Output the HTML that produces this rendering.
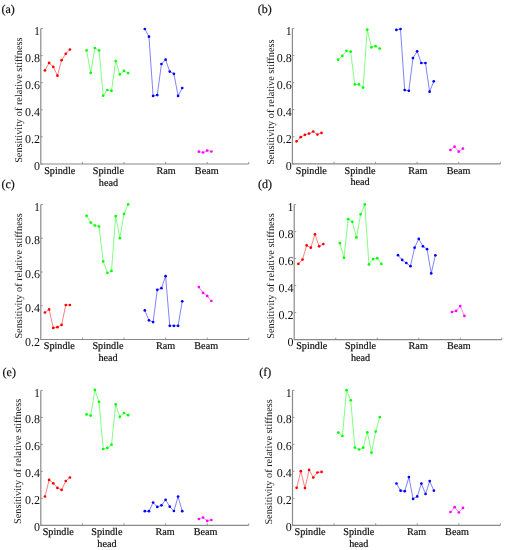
<!DOCTYPE html>
<html><head><meta charset="utf-8"><title>Sensitivity of relative stiffness</title>
<style>
html,body{margin:0;padding:0;background:#fff;}
body{width:506px;height:550px;overflow:hidden;}
svg{display:block;}
text{text-rendering:geometricPrecision;font-family:"Liberation Serif","Times New Roman",serif;fill:#111;stroke:#111;stroke-width:0.2px;}
.tk{stroke:none;}
.yl{stroke:none;fill:#222;}
</style></head><body>
<svg width="506" height="550" viewBox="0 0 506 550">
<rect width="506" height="550" fill="#fff"/>
<path d="M40.80 28.50V164.00H248.80" fill="none" stroke="#8a8a8a" stroke-width="1.2"/>
<path d="M82.40 164.00v-2M124.00 164.00v-2M165.60 164.00v-2M207.20 164.00v-2M248.80 164.00v-2M40.80 164.00h2M40.80 136.90h2M40.80 109.80h2M40.80 82.70h2M40.80 55.60h2M40.80 28.50h2" fill="none" stroke="#8a8a8a" stroke-width="0.9"/>
<text x="40.10" y="170.10" class="tk" text-anchor="end" font-size="12">0</text>
<text x="40.10" y="143.00" class="tk" text-anchor="end" font-size="12">0.2</text>
<text x="40.10" y="115.90" class="tk" text-anchor="end" font-size="12">0.4</text>
<text x="40.10" y="88.80" class="tk" text-anchor="end" font-size="12">0.6</text>
<text x="40.10" y="61.70" class="tk" text-anchor="end" font-size="12">0.8</text>
<text x="40.10" y="34.60" class="tk" text-anchor="end" font-size="12">1</text>
<text x="59.75" y="173.70" text-anchor="middle" font-size="10.2">Spindle</text>
<text x="108.40" y="173.70" text-anchor="middle" font-size="10.2">Spindle</text>
<text x="108.40" y="185.50" text-anchor="middle" font-size="10.2">head</text>
<text x="166.05" y="173.70" text-anchor="middle" font-size="10.2">Ram</text>
<text x="206.75" y="173.70" text-anchor="middle" font-size="10.2">Beam</text>
<text transform="translate(22.20 100.20) rotate(-90)" x="0" y="0" class="yl" text-anchor="middle" font-size="10.3">Sensitivity of relative stiffness</text>
<text x="1.40" y="12.60" font-size="12">(a)</text>
<path d="M44.96 70.40 L49.12 62.90 L53.28 66.90 L57.44 75.70 L61.60 60.20 L65.76 53.80 L69.92 49.50" fill="none" stroke="#ff0000" stroke-width="0.9" stroke-opacity="0.55"/>
<g fill="#ff0000"><circle cx="44.96" cy="70.40" r="1.35"/><circle cx="49.12" cy="62.90" r="1.35"/><circle cx="53.28" cy="66.90" r="1.35"/><circle cx="57.44" cy="75.70" r="1.35"/><circle cx="61.60" cy="60.20" r="1.35"/><circle cx="65.76" cy="53.80" r="1.35"/><circle cx="69.92" cy="49.50" r="1.35"/></g>
<path d="M86.56 50.40 L90.72 72.80 L94.88 48.00 L99.04 50.40 L103.20 95.70 L107.36 90.00 L111.52 90.80 L115.68 61.00 L119.84 74.40 L124.00 70.90 L128.16 73.10" fill="none" stroke="#00ff00" stroke-width="0.9" stroke-opacity="0.55"/>
<g fill="#00ff00"><circle cx="86.56" cy="50.40" r="1.35"/><circle cx="90.72" cy="72.80" r="1.35"/><circle cx="94.88" cy="48.00" r="1.35"/><circle cx="99.04" cy="50.40" r="1.35"/><circle cx="103.20" cy="95.70" r="1.35"/><circle cx="107.36" cy="90.00" r="1.35"/><circle cx="111.52" cy="90.80" r="1.35"/><circle cx="115.68" cy="61.00" r="1.35"/><circle cx="119.84" cy="74.40" r="1.35"/><circle cx="124.00" cy="70.90" r="1.35"/><circle cx="128.16" cy="73.10" r="1.35"/></g>
<path d="M144.80 29.00 L148.96 36.70 L153.12 95.90 L157.28 95.10 L161.44 64.00 L165.60 59.70 L169.76 71.60 L173.92 73.80 L178.08 95.90 L182.24 88.00" fill="none" stroke="#0000ff" stroke-width="0.9" stroke-opacity="0.55"/>
<g fill="#0000ff"><circle cx="144.80" cy="29.00" r="1.35"/><circle cx="148.96" cy="36.70" r="1.35"/><circle cx="153.12" cy="95.90" r="1.35"/><circle cx="157.28" cy="95.10" r="1.35"/><circle cx="161.44" cy="64.00" r="1.35"/><circle cx="165.60" cy="59.70" r="1.35"/><circle cx="169.76" cy="71.60" r="1.35"/><circle cx="173.92" cy="73.80" r="1.35"/><circle cx="178.08" cy="95.90" r="1.35"/><circle cx="182.24" cy="88.00" r="1.35"/></g>
<path d="M198.88 151.70 L203.04 152.50 L207.20 150.60 L211.36 151.50" fill="none" stroke="#ff00ff" stroke-width="0.9" stroke-opacity="0.55"/>
<g fill="#ff00ff"><circle cx="198.88" cy="151.70" r="1.35"/><circle cx="203.04" cy="152.50" r="1.35"/><circle cx="207.20" cy="150.60" r="1.35"/><circle cx="211.36" cy="151.50" r="1.35"/></g>
<path d="M292.40 28.50V163.80H500.30" fill="none" stroke="#8a8a8a" stroke-width="1.2"/>
<path d="M333.98 163.80v-2M375.56 163.80v-2M417.14 163.80v-2M458.72 163.80v-2M500.30 163.80v-2M292.40 163.80h2M292.40 136.74h2M292.40 109.68h2M292.40 82.62h2M292.40 55.56h2M292.40 28.50h2" fill="none" stroke="#8a8a8a" stroke-width="0.9"/>
<text x="291.70" y="169.90" class="tk" text-anchor="end" font-size="12">0</text>
<text x="291.70" y="142.84" class="tk" text-anchor="end" font-size="12">0.2</text>
<text x="291.70" y="115.78" class="tk" text-anchor="end" font-size="12">0.4</text>
<text x="291.70" y="88.72" class="tk" text-anchor="end" font-size="12">0.6</text>
<text x="291.70" y="61.66" class="tk" text-anchor="end" font-size="12">0.8</text>
<text x="291.70" y="34.60" class="tk" text-anchor="end" font-size="12">1</text>
<text x="311.30" y="173.50" text-anchor="middle" font-size="10.2">Spindle</text>
<text x="360.05" y="173.50" text-anchor="middle" font-size="10.2">Spindle</text>
<text x="360.05" y="185.30" text-anchor="middle" font-size="10.2">head</text>
<text x="417.80" y="173.50" text-anchor="middle" font-size="10.2">Ram</text>
<text x="458.55" y="173.50" text-anchor="middle" font-size="10.2">Beam</text>
<text transform="translate(274.00 102.20) rotate(-90)" x="0" y="0" class="yl" text-anchor="middle" font-size="10.3">Sensitivity of relative stiffness</text>
<text x="257.70" y="12.80" font-size="12">(b)</text>
<path d="M296.56 141.30 L300.72 137.20 L304.87 134.80 L309.03 133.60 L313.19 131.50 L317.35 134.50 L321.51 132.90" fill="none" stroke="#ff0000" stroke-width="0.9" stroke-opacity="0.55"/>
<g fill="#ff0000"><circle cx="296.56" cy="141.30" r="1.35"/><circle cx="300.72" cy="137.20" r="1.35"/><circle cx="304.87" cy="134.80" r="1.35"/><circle cx="309.03" cy="133.60" r="1.35"/><circle cx="313.19" cy="131.50" r="1.35"/><circle cx="317.35" cy="134.50" r="1.35"/><circle cx="321.51" cy="132.90" r="1.35"/></g>
<path d="M338.14 59.70 L342.30 55.90 L346.45 50.80 L350.61 51.70 L354.77 84.40 L358.93 84.40 L363.09 87.60 L367.24 29.60 L371.40 47.30 L375.56 46.20 L379.72 48.60" fill="none" stroke="#00ff00" stroke-width="0.9" stroke-opacity="0.55"/>
<g fill="#00ff00"><circle cx="338.14" cy="59.70" r="1.35"/><circle cx="342.30" cy="55.90" r="1.35"/><circle cx="346.45" cy="50.80" r="1.35"/><circle cx="350.61" cy="51.70" r="1.35"/><circle cx="354.77" cy="84.40" r="1.35"/><circle cx="358.93" cy="84.40" r="1.35"/><circle cx="363.09" cy="87.60" r="1.35"/><circle cx="367.24" cy="29.60" r="1.35"/><circle cx="371.40" cy="47.30" r="1.35"/><circle cx="375.56" cy="46.20" r="1.35"/><circle cx="379.72" cy="48.60" r="1.35"/></g>
<path d="M396.35 29.90 L400.51 29.00 L404.67 90.10 L408.82 90.80 L412.98 58.10 L417.14 51.30 L421.30 63.00 L425.46 63.00 L429.61 91.70 L433.77 81.30" fill="none" stroke="#0000ff" stroke-width="0.9" stroke-opacity="0.55"/>
<g fill="#0000ff"><circle cx="396.35" cy="29.90" r="1.35"/><circle cx="400.51" cy="29.00" r="1.35"/><circle cx="404.67" cy="90.10" r="1.35"/><circle cx="408.82" cy="90.80" r="1.35"/><circle cx="412.98" cy="58.10" r="1.35"/><circle cx="417.14" cy="51.30" r="1.35"/><circle cx="421.30" cy="63.00" r="1.35"/><circle cx="425.46" cy="63.00" r="1.35"/><circle cx="429.61" cy="91.70" r="1.35"/><circle cx="433.77" cy="81.30" r="1.35"/></g>
<path d="M450.40 150.00 L454.56 146.70 L458.72 151.70 L462.88 148.60" fill="none" stroke="#ff00ff" stroke-width="0.9" stroke-opacity="0.55"/>
<g fill="#ff00ff"><circle cx="450.40" cy="150.00" r="1.35"/><circle cx="454.56" cy="146.70" r="1.35"/><circle cx="458.72" cy="151.70" r="1.35"/><circle cx="462.88" cy="148.60" r="1.35"/></g>
<path d="M40.80 204.50V339.50H248.80" fill="none" stroke="#8a8a8a" stroke-width="1.2"/>
<path d="M82.40 339.50v-2M124.00 339.50v-2M165.60 339.50v-2M207.20 339.50v-2M248.80 339.50v-2M40.80 339.50h2M40.80 305.75h2M40.80 272.00h2M40.80 238.25h2M40.80 204.50h2" fill="none" stroke="#8a8a8a" stroke-width="0.9"/>
<text x="40.10" y="345.60" class="tk" text-anchor="end" font-size="12">0.2</text>
<text x="40.10" y="311.85" class="tk" text-anchor="end" font-size="12">0.4</text>
<text x="40.10" y="278.10" class="tk" text-anchor="end" font-size="12">0.6</text>
<text x="40.10" y="244.35" class="tk" text-anchor="end" font-size="12">0.8</text>
<text x="40.10" y="210.60" class="tk" text-anchor="end" font-size="12">1</text>
<text x="59.30" y="349.20" text-anchor="middle" font-size="10.2">Spindle</text>
<text x="108.00" y="349.20" text-anchor="middle" font-size="10.2">Spindle</text>
<text x="108.00" y="361.00" text-anchor="middle" font-size="10.2">head</text>
<text x="165.65" y="349.20" text-anchor="middle" font-size="10.2">Ram</text>
<text x="206.20" y="349.20" text-anchor="middle" font-size="10.2">Beam</text>
<text transform="translate(21.70 275.95) rotate(-90)" x="0" y="0" class="yl" text-anchor="middle" font-size="10.3">Sensitivity of relative stiffness</text>
<text x="1.40" y="188.40" font-size="12">(c)</text>
<path d="M44.96 312.50 L49.12 309.40 L53.28 327.90 L57.44 327.20 L61.60 324.90 L65.76 305.00 L69.92 305.00" fill="none" stroke="#ff0000" stroke-width="0.9" stroke-opacity="0.55"/>
<g fill="#ff0000"><circle cx="44.96" cy="312.50" r="1.35"/><circle cx="49.12" cy="309.40" r="1.35"/><circle cx="53.28" cy="327.90" r="1.35"/><circle cx="57.44" cy="327.20" r="1.35"/><circle cx="61.60" cy="324.90" r="1.35"/><circle cx="65.76" cy="305.00" r="1.35"/><circle cx="69.92" cy="305.00" r="1.35"/></g>
<path d="M86.56 215.80 L90.72 222.60 L94.88 225.50 L99.04 226.50 L103.20 261.40 L107.36 272.80 L111.52 270.90 L115.68 216.10 L119.84 238.20 L124.00 213.90 L128.16 204.40" fill="none" stroke="#00ff00" stroke-width="0.9" stroke-opacity="0.55"/>
<g fill="#00ff00"><circle cx="86.56" cy="215.80" r="1.35"/><circle cx="90.72" cy="222.60" r="1.35"/><circle cx="94.88" cy="225.50" r="1.35"/><circle cx="99.04" cy="226.50" r="1.35"/><circle cx="103.20" cy="261.40" r="1.35"/><circle cx="107.36" cy="272.80" r="1.35"/><circle cx="111.52" cy="270.90" r="1.35"/><circle cx="115.68" cy="216.10" r="1.35"/><circle cx="119.84" cy="238.20" r="1.35"/><circle cx="124.00" cy="213.90" r="1.35"/><circle cx="128.16" cy="204.40" r="1.35"/></g>
<path d="M144.80 310.40 L148.96 320.30 L153.12 322.10 L157.28 289.80 L161.44 288.20 L165.60 276.20 L169.76 325.80 L173.92 325.80 L178.08 325.80 L182.24 301.30" fill="none" stroke="#0000ff" stroke-width="0.9" stroke-opacity="0.55"/>
<g fill="#0000ff"><circle cx="144.80" cy="310.40" r="1.35"/><circle cx="148.96" cy="320.30" r="1.35"/><circle cx="153.12" cy="322.10" r="1.35"/><circle cx="157.28" cy="289.80" r="1.35"/><circle cx="161.44" cy="288.20" r="1.35"/><circle cx="165.60" cy="276.20" r="1.35"/><circle cx="169.76" cy="325.80" r="1.35"/><circle cx="173.92" cy="325.80" r="1.35"/><circle cx="178.08" cy="325.80" r="1.35"/><circle cx="182.24" cy="301.30" r="1.35"/></g>
<path d="M198.88 287.10 L203.04 292.90 L207.20 295.90 L211.36 301.00" fill="none" stroke="#ff00ff" stroke-width="0.9" stroke-opacity="0.55"/>
<g fill="#ff00ff"><circle cx="198.88" cy="287.10" r="1.35"/><circle cx="203.04" cy="292.90" r="1.35"/><circle cx="207.20" cy="295.90" r="1.35"/><circle cx="211.36" cy="301.00" r="1.35"/></g>
<path d="M294.20 204.60V339.60H501.80" fill="none" stroke="#8a8a8a" stroke-width="1.2"/>
<path d="M335.72 339.60v-2M377.24 339.60v-2M418.76 339.60v-2M460.28 339.60v-2M501.80 339.60v-2M294.20 339.60h2M294.20 312.60h2M294.20 285.60h2M294.20 258.60h2M294.20 231.60h2M294.20 204.60h2" fill="none" stroke="#8a8a8a" stroke-width="0.9"/>
<text x="293.50" y="345.70" class="tk" text-anchor="end" font-size="12">0</text>
<text x="293.50" y="318.70" class="tk" text-anchor="end" font-size="12">0.2</text>
<text x="293.50" y="291.70" class="tk" text-anchor="end" font-size="12">0.4</text>
<text x="293.50" y="264.70" class="tk" text-anchor="end" font-size="12">0.6</text>
<text x="293.50" y="237.70" class="tk" text-anchor="end" font-size="12">0.8</text>
<text x="293.50" y="210.70" class="tk" text-anchor="end" font-size="12">1</text>
<text x="311.75" y="349.30" text-anchor="middle" font-size="10.2">Spindle</text>
<text x="360.50" y="349.30" text-anchor="middle" font-size="10.2">Spindle</text>
<text x="360.50" y="361.10" text-anchor="middle" font-size="10.2">head</text>
<text x="418.20" y="349.30" text-anchor="middle" font-size="10.2">Ram</text>
<text x="458.90" y="349.30" text-anchor="middle" font-size="10.2">Beam</text>
<text transform="translate(274.00 276.05) rotate(-90)" x="0" y="0" class="yl" text-anchor="middle" font-size="10.3">Sensitivity of relative stiffness</text>
<text x="257.90" y="188.10" font-size="12">(d)</text>
<path d="M298.35 263.90 L302.50 259.60 L306.66 245.40 L310.81 247.70 L314.96 234.30 L319.11 246.30 L323.26 244.10" fill="none" stroke="#ff0000" stroke-width="0.9" stroke-opacity="0.55"/>
<g fill="#ff0000"><circle cx="298.35" cy="263.90" r="1.35"/><circle cx="302.50" cy="259.60" r="1.35"/><circle cx="306.66" cy="245.40" r="1.35"/><circle cx="310.81" cy="247.70" r="1.35"/><circle cx="314.96" cy="234.30" r="1.35"/><circle cx="319.11" cy="246.30" r="1.35"/><circle cx="323.26" cy="244.10" r="1.35"/></g>
<path d="M339.87 243.20 L344.02 257.80 L348.18 219.20 L352.33 221.80 L356.48 237.40 L360.63 214.30 L364.78 204.40 L368.94 264.40 L373.09 259.10 L377.24 258.20 L381.39 263.90" fill="none" stroke="#00ff00" stroke-width="0.9" stroke-opacity="0.55"/>
<g fill="#00ff00"><circle cx="339.87" cy="243.20" r="1.35"/><circle cx="344.02" cy="257.80" r="1.35"/><circle cx="348.18" cy="219.20" r="1.35"/><circle cx="352.33" cy="221.80" r="1.35"/><circle cx="356.48" cy="237.40" r="1.35"/><circle cx="360.63" cy="214.30" r="1.35"/><circle cx="364.78" cy="204.40" r="1.35"/><circle cx="368.94" cy="264.40" r="1.35"/><circle cx="373.09" cy="259.10" r="1.35"/><circle cx="377.24" cy="258.20" r="1.35"/><circle cx="381.39" cy="263.90" r="1.35"/></g>
<path d="M398.00 255.20 L402.15 259.90 L406.30 263.00 L410.46 266.20 L414.61 247.70 L418.76 238.90 L422.91 246.30 L427.06 249.20 L431.22 273.40 L435.37 255.30" fill="none" stroke="#0000ff" stroke-width="0.9" stroke-opacity="0.55"/>
<g fill="#0000ff"><circle cx="398.00" cy="255.20" r="1.35"/><circle cx="402.15" cy="259.90" r="1.35"/><circle cx="406.30" cy="263.00" r="1.35"/><circle cx="410.46" cy="266.20" r="1.35"/><circle cx="414.61" cy="247.70" r="1.35"/><circle cx="418.76" cy="238.90" r="1.35"/><circle cx="422.91" cy="246.30" r="1.35"/><circle cx="427.06" cy="249.20" r="1.35"/><circle cx="431.22" cy="273.40" r="1.35"/><circle cx="435.37" cy="255.30" r="1.35"/></g>
<path d="M451.98 312.00 L456.13 310.90 L460.28 306.10 L464.43 315.90" fill="none" stroke="#ff00ff" stroke-width="0.9" stroke-opacity="0.55"/>
<g fill="#ff00ff"><circle cx="451.98" cy="312.00" r="1.35"/><circle cx="456.13" cy="310.90" r="1.35"/><circle cx="460.28" cy="306.10" r="1.35"/><circle cx="464.43" cy="315.90" r="1.35"/></g>
<path d="M40.80 390.40V525.30H248.80" fill="none" stroke="#8a8a8a" stroke-width="1.2"/>
<path d="M82.40 525.30v-2M124.00 525.30v-2M165.60 525.30v-2M207.20 525.30v-2M248.80 525.30v-2M40.80 525.30h2M40.80 498.32h2M40.80 471.34h2M40.80 444.36h2M40.80 417.38h2M40.80 390.40h2" fill="none" stroke="#8a8a8a" stroke-width="0.9"/>
<text x="40.10" y="531.40" class="tk" text-anchor="end" font-size="12">0</text>
<text x="40.10" y="504.42" class="tk" text-anchor="end" font-size="12">0.2</text>
<text x="40.10" y="477.44" class="tk" text-anchor="end" font-size="12">0.4</text>
<text x="40.10" y="450.46" class="tk" text-anchor="end" font-size="12">0.6</text>
<text x="40.10" y="423.48" class="tk" text-anchor="end" font-size="12">0.8</text>
<text x="40.10" y="396.50" class="tk" text-anchor="end" font-size="12">1</text>
<text x="58.25" y="535.00" text-anchor="middle" font-size="10.2">Spindle</text>
<text x="106.90" y="535.00" text-anchor="middle" font-size="10.2">Spindle</text>
<text x="106.90" y="546.80" text-anchor="middle" font-size="10.2">head</text>
<text x="165.00" y="535.00" text-anchor="middle" font-size="10.2">Ram</text>
<text x="205.60" y="535.00" text-anchor="middle" font-size="10.2">Beam</text>
<text transform="translate(21.00 461.35) rotate(-90)" x="0" y="0" class="yl" text-anchor="middle" font-size="10.3">Sensitivity of relative stiffness</text>
<text x="2.60" y="376.30" font-size="12">(e)</text>
<path d="M44.96 496.50 L49.12 479.90 L53.28 483.30 L57.44 487.90 L61.60 489.90 L65.76 481.00 L69.92 477.50" fill="none" stroke="#ff0000" stroke-width="0.9" stroke-opacity="0.55"/>
<g fill="#ff0000"><circle cx="44.96" cy="496.50" r="1.35"/><circle cx="49.12" cy="479.90" r="1.35"/><circle cx="53.28" cy="483.30" r="1.35"/><circle cx="57.44" cy="487.90" r="1.35"/><circle cx="61.60" cy="489.90" r="1.35"/><circle cx="65.76" cy="481.00" r="1.35"/><circle cx="69.92" cy="477.50" r="1.35"/></g>
<path d="M86.56 414.40 L90.72 415.60 L94.88 389.90 L99.04 401.80 L103.20 449.00 L107.36 447.90 L111.52 444.70 L115.68 404.40 L119.84 416.80 L124.00 413.10 L128.16 415.20" fill="none" stroke="#00ff00" stroke-width="0.9" stroke-opacity="0.55"/>
<g fill="#00ff00"><circle cx="86.56" cy="414.40" r="1.35"/><circle cx="90.72" cy="415.60" r="1.35"/><circle cx="94.88" cy="389.90" r="1.35"/><circle cx="99.04" cy="401.80" r="1.35"/><circle cx="103.20" cy="449.00" r="1.35"/><circle cx="107.36" cy="447.90" r="1.35"/><circle cx="111.52" cy="444.70" r="1.35"/><circle cx="115.68" cy="404.40" r="1.35"/><circle cx="119.84" cy="416.80" r="1.35"/><circle cx="124.00" cy="413.10" r="1.35"/><circle cx="128.16" cy="415.20" r="1.35"/></g>
<path d="M144.80 511.20 L148.96 511.20 L153.12 502.50 L157.28 506.90 L161.44 505.30 L165.60 499.80 L169.76 506.70 L173.92 511.00 L178.08 496.60 L182.24 511.20" fill="none" stroke="#0000ff" stroke-width="0.9" stroke-opacity="0.55"/>
<g fill="#0000ff"><circle cx="144.80" cy="511.20" r="1.35"/><circle cx="148.96" cy="511.20" r="1.35"/><circle cx="153.12" cy="502.50" r="1.35"/><circle cx="157.28" cy="506.90" r="1.35"/><circle cx="161.44" cy="505.30" r="1.35"/><circle cx="165.60" cy="499.80" r="1.35"/><circle cx="169.76" cy="506.70" r="1.35"/><circle cx="173.92" cy="511.00" r="1.35"/><circle cx="178.08" cy="496.60" r="1.35"/><circle cx="182.24" cy="511.20" r="1.35"/></g>
<path d="M198.88 519.00 L203.04 517.50 L207.20 520.90 L211.36 520.00" fill="none" stroke="#ff00ff" stroke-width="0.9" stroke-opacity="0.55"/>
<g fill="#ff00ff"><circle cx="198.88" cy="519.00" r="1.35"/><circle cx="203.04" cy="517.50" r="1.35"/><circle cx="207.20" cy="520.90" r="1.35"/><circle cx="211.36" cy="520.00" r="1.35"/></g>
<path d="M292.50 390.40V525.30H500.40" fill="none" stroke="#8a8a8a" stroke-width="1.2"/>
<path d="M334.08 525.30v-2M375.66 525.30v-2M417.24 525.30v-2M458.82 525.30v-2M500.40 525.30v-2M292.50 525.30h2M292.50 498.32h2M292.50 471.34h2M292.50 444.36h2M292.50 417.38h2M292.50 390.40h2" fill="none" stroke="#8a8a8a" stroke-width="0.9"/>
<text x="291.80" y="531.40" class="tk" text-anchor="end" font-size="12">0</text>
<text x="291.80" y="504.42" class="tk" text-anchor="end" font-size="12">0.2</text>
<text x="291.80" y="477.44" class="tk" text-anchor="end" font-size="12">0.4</text>
<text x="291.80" y="450.46" class="tk" text-anchor="end" font-size="12">0.6</text>
<text x="291.80" y="423.48" class="tk" text-anchor="end" font-size="12">0.8</text>
<text x="291.80" y="396.50" class="tk" text-anchor="end" font-size="12">1</text>
<text x="310.10" y="535.00" text-anchor="middle" font-size="10.2">Spindle</text>
<text x="358.80" y="535.00" text-anchor="middle" font-size="10.2">Spindle</text>
<text x="358.80" y="546.80" text-anchor="middle" font-size="10.2">head</text>
<text x="416.60" y="535.00" text-anchor="middle" font-size="10.2">Ram</text>
<text x="457.00" y="535.00" text-anchor="middle" font-size="10.2">Beam</text>
<text transform="translate(272.20 461.95) rotate(-90)" x="0" y="0" class="yl" text-anchor="middle" font-size="10.3">Sensitivity of relative stiffness</text>
<text x="259.30" y="376.00" font-size="12">(f)</text>
<path d="M296.66 487.80 L300.82 471.20 L304.97 488.10 L309.13 469.90 L313.29 477.50 L317.45 472.50 L321.61 471.90" fill="none" stroke="#ff0000" stroke-width="0.9" stroke-opacity="0.55"/>
<g fill="#ff0000"><circle cx="296.66" cy="487.80" r="1.35"/><circle cx="300.82" cy="471.20" r="1.35"/><circle cx="304.97" cy="488.10" r="1.35"/><circle cx="309.13" cy="469.90" r="1.35"/><circle cx="313.29" cy="477.50" r="1.35"/><circle cx="317.45" cy="472.50" r="1.35"/><circle cx="321.61" cy="471.90" r="1.35"/></g>
<path d="M338.24 432.60 L342.40 436.00 L346.55 390.20 L350.71 400.30 L354.87 447.60 L359.03 449.50 L363.19 447.60 L367.34 432.30 L371.50 452.70 L375.66 431.60 L379.82 417.10" fill="none" stroke="#00ff00" stroke-width="0.9" stroke-opacity="0.55"/>
<g fill="#00ff00"><circle cx="338.24" cy="432.60" r="1.35"/><circle cx="342.40" cy="436.00" r="1.35"/><circle cx="346.55" cy="390.20" r="1.35"/><circle cx="350.71" cy="400.30" r="1.35"/><circle cx="354.87" cy="447.60" r="1.35"/><circle cx="359.03" cy="449.50" r="1.35"/><circle cx="363.19" cy="447.60" r="1.35"/><circle cx="367.34" cy="432.30" r="1.35"/><circle cx="371.50" cy="452.70" r="1.35"/><circle cx="375.66" cy="431.60" r="1.35"/><circle cx="379.82" cy="417.10" r="1.35"/></g>
<path d="M396.45 483.50 L400.61 490.70 L404.77 491.20 L408.92 477.10 L413.08 498.90 L417.24 496.40 L421.40 483.60 L425.56 494.00 L429.71 481.10 L433.87 490.70" fill="none" stroke="#0000ff" stroke-width="0.9" stroke-opacity="0.55"/>
<g fill="#0000ff"><circle cx="396.45" cy="483.50" r="1.35"/><circle cx="400.61" cy="490.70" r="1.35"/><circle cx="404.77" cy="491.20" r="1.35"/><circle cx="408.92" cy="477.10" r="1.35"/><circle cx="413.08" cy="498.90" r="1.35"/><circle cx="417.24" cy="496.40" r="1.35"/><circle cx="421.40" cy="483.60" r="1.35"/><circle cx="425.56" cy="494.00" r="1.35"/><circle cx="429.71" cy="481.10" r="1.35"/><circle cx="433.87" cy="490.70" r="1.35"/></g>
<path d="M450.50 512.00 L454.66 507.20 L458.82 512.50 L462.98 507.90" fill="none" stroke="#ff00ff" stroke-width="0.9" stroke-opacity="0.55"/>
<g fill="#ff00ff"><circle cx="450.50" cy="512.00" r="1.35"/><circle cx="454.66" cy="507.20" r="1.35"/><circle cx="458.82" cy="512.50" r="1.35"/><circle cx="462.98" cy="507.90" r="1.35"/></g>
</svg>
</body></html>
